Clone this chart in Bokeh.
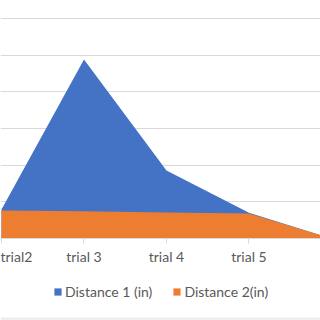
from bokeh.plotting import figure
from bokeh.models import FixedTicker, Legend, LegendItem, LinearAxis, BoxAnnotation
from bokeh.embed import file_html
from bokeh.resources import INLINE

# data
trials = [2, 3, 4, 5, 6]
trial_labels = ["trial2", "trial 3", "trial 4", "trial 5", "trial 6"]
distance1 = [0.79, 4.88, 1.85, 0.70, 0.0]
distance2 = [0.76, 0.74, 0.71, 0.68, 0.0]
series_names = ["Distance 1 (in)", "Distance 2(in)"]
grid_values = [1, 2, 3, 4, 5, 6]

BLUE = "#4472C4"
ORANGE = "#ED7D31"
TXT = "#595959"
FONT = "Lato"
Y0, Y1 = -2.234, 6.485

p = figure(width=320, height=320, x_range=(1.988, 5.867), y_range=(Y0, Y1),
           output_backend="svg", toolbar_location=None,
           x_axis_location=None, y_axis_location=None,
           min_border_left=0, min_border_right=0, min_border_top=0, min_border_bottom=0)
p.outline_line_color = None
p.background_fill_color = "white"
p.border_fill_color = "white"

r1 = p.varea(x=trials, y1=[0] * len(trials), y2=distance1, fill_color=BLUE)
r2 = p.varea(x=trials, y1=[0] * len(trials), y2=distance2, fill_color=ORANGE)

p.xgrid.visible = False
p.ygrid.ticker = FixedTicker(ticks=grid_values)
p.ygrid.grid_line_color = "#d9d9d9"
p.ygrid.grid_line_width = 1

xa = LinearAxis(fixed_location=0)
xa.ticker = FixedTicker(ticks=trials)
xa.major_label_overrides = {t: l for t, l in zip(trials, trial_labels)}
xa.axis_line_color = "#d9d9d9"
xa.major_tick_line_color = "#d9d9d9"
xa.major_tick_in = 0
xa.major_tick_out = 5
xa.minor_tick_line_color = None
xa.major_label_text_font = FONT
xa.major_label_text_font_size = "14px"
xa.major_label_text_color = TXT
xa.major_label_standoff = 4
p.add_layout(xa, "below")

strip = BoxAnnotation(bottom=Y0, top=Y0 + 3 / 36.7, fill_color="#eeeeee",
                      fill_alpha=1, line_color=None)
p.add_layout(strip)

legend = Legend(items=[LegendItem(label=series_names[0], renderers=[r1]),
                       LegendItem(label=series_names[1], renderers=[r2])],
                orientation="horizontal", location=(53, 20))
legend.label_text_font = FONT
legend.label_text_font_size = "14px"
legend.label_text_color = TXT
legend.glyph_width = 9
legend.glyph_height = 9
legend.label_standoff = 3
legend.label_height = 14
legend.spacing = 20
legend.padding = 0
legend.margin = 0
legend.border_line_color = None
legend.background_fill_alpha = 0
p.add_layout(legend)

open("out.html", "w").write(file_html(p, INLINE))
